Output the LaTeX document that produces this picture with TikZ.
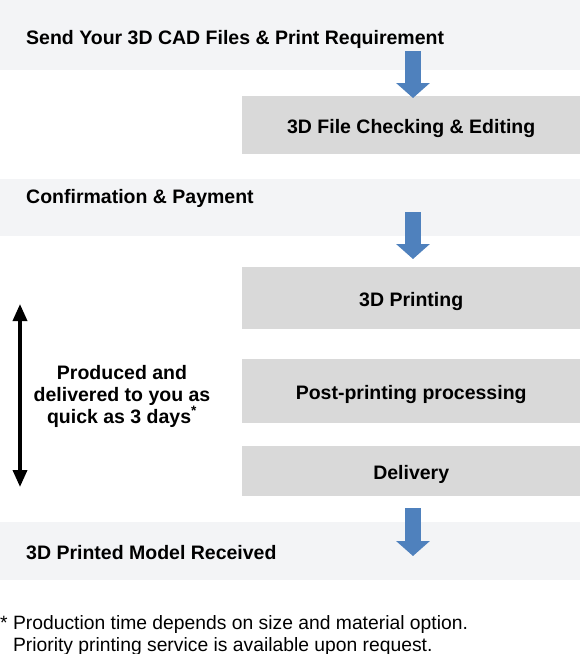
\documentclass[tikz,border=0pt]{standalone}
\usepackage{fontspec}
\setmainfont{Liberation Sans}
\usepackage{xcolor}
\usepackage{tikz}
\usetikzlibrary{positioning, shapes, arrows.meta}

\definecolor{bandgrey}{HTML}{F3F4F6}
\definecolor{boxgrey}{HTML}{D9D9D9}
\definecolor{flowblue}{HTML}{4F81BD}

\begin{document}
\begin{tikzpicture}[x=1pt, y=-1pt, font=\fontsize{19.5}{22}\selectfont\bfseries,
    band/.style={fill=bandgrey, anchor=north west, minimum width=580pt, inner sep=0pt},
    stage/.style={fill=boxgrey, anchor=north west, minimum width=338pt, inner sep=0pt, text height=20pt, text depth=4pt},
    title/.style={anchor=west, inner sep=0pt, text height=14pt, text depth=4pt},
    flow/.style={draw=flowblue, line width=16pt, -{Triangle[width=33pt, length=15pt]}}]

    \useasboundingbox (0,0) rectangle (580,654);

    % Customer bands
    \node[band, minimum height=70pt] (send) at (0,0) {};
    \node[band, minimum height=57pt] (confirm) at (0,179) {};
    \node[band, minimum height=58pt] (received) at (0,522) {};

    \node[title] (sendtxt) at (26,39) {Send Your 3D CAD Files \& Print Requirement};
    \node[title] (confirmtxt) at (26,198) {Confirmation \& Payment};
    \node[title] (receivedtxt) at (26,554) {3D Printed Model Received};

    % Our stages
    \node[stage, minimum height=58pt] (check) at (242,96) {3D File Checking \& Editing};
    \node[stage, minimum height=62pt] (printing) at (242,267) {3D Printing};
    \node[stage, minimum height=64pt] (post) at (242,359) {Post-printing processing};
    \node[stage, minimum height=50pt] (delivery) at (242,446) {Delivery};

    % Flow arrows
    \coordinate (f1) at (413,51);
    \coordinate (t1) at (413,98);
    \coordinate (f2) at (413,212);
    \coordinate (t2) at (413,259);
    \coordinate (f3) at (413,508);
    \coordinate (t3) at (413,556);
    \draw[flow] (f1) -- (t1);
    \draw[flow] (f2) -- (t2);
    \draw[flow] (f3) -- (t3);

    % Production time
    \coordinate (top) at (20,304);
    \coordinate (bottom) at (20,487);
    \draw[line width=3.5pt, {Triangle[width=14pt, length=17pt]}-{Triangle[width=14pt, length=17pt]}] (top) -- (bottom);
    \node[align=center, inner sep=0pt] (quick) at (122,396) {Produced and\\delivered to you as\\quick as 3 days\textsuperscript{*}};

    % Footnote
    \node[anchor=north west, align=left, inner sep=0pt, font=\fontsize{19.3}{22}\selectfont] (note) at (0,615)
        {* Production time depends on size and material option.\\\hphantom{* }Priority printing service is available upon request.};

\end{tikzpicture}
\end{document}
